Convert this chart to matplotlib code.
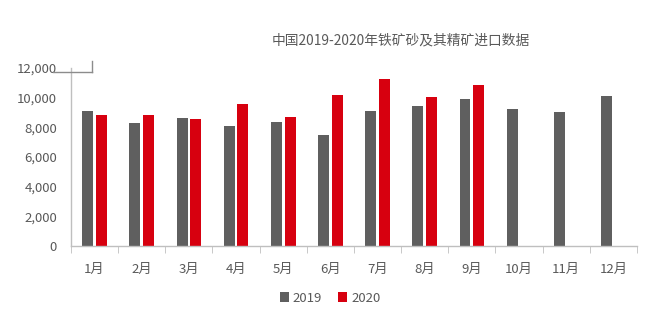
import numpy as np
import matplotlib.pyplot as plt
from matplotlib.lines import Line2D

plt.rcParams['font.family'] = ['Noto Sans CJK SC', 'DejaVu Sans']

months = ['1月', '2月', '3月', '4月', '5月', '6月', '7月', '8月', '9月', '10月', '11月', '12月']
vals_2019 = [9120, 8290, 8630, 8090, 8360, 7480, 9100, 9440, 9910, 9240, 9030, 10110]
vals_2020 = [8830, 8830, 8560, 9570, 8700, 10180, 11260, 10050, 10850]
title = '中国2019-2020年铁矿砂及其精矿进口数据'

c19 = '#5f5f5f'
c20 = '#d7000f'
axis_col = '#bfbfbf'
txt_col = '#595959'

fig = plt.figure(figsize=(6.49, 3.12), dpi=100)
ax = fig.add_axes([0.1094, 0.2115, 0.8721, 0.5705])

x = np.arange(len(months))
w = 0.23
ax.bar(x - 0.145, vals_2019, width=w, color=c19, label='2019')
ax.bar(np.arange(len(vals_2020)) + 0.145, vals_2020, width=w, color=c20, label='2020')

ax.set_xlim(-0.5, len(months) - 0.5)
ax.set_ylim(0, 12000)
ax.set_yticks(np.arange(0, 12001, 2000))
ax.set_yticklabels([f'{v:,}' for v in range(0, 12001, 2000)])
ax.set_xticks(x)
ax.set_xticklabels(months)
ax.set_xticks(np.arange(-0.5, len(months)), minor=True)
ax.tick_params(axis='x', which='major', length=0, pad=12, labelsize=9.5, colors=txt_col)
ax.tick_params(axis='x', which='minor', length=5, color=axis_col, direction='out')
ax.tick_params(axis='y', length=0, pad=10, labelsize=9.5, colors=txt_col)

for s in ['top', 'right']:
    ax.spines[s].set_visible(False)
for s in ['left', 'bottom']:
    ax.spines[s].set_color(axis_col)
    ax.spines[s].set_linewidth(1)

# small bracket glitch near top of y axis
fig.add_artist(Line2D([53/649, 92/649], [1-72/312, 1-72/312], color='#8c8c8c', lw=1))
fig.add_artist(Line2D([92/649, 92/649], [1-72/312, 1-61/312], color='#8c8c8c', lw=1))

fig.text(401/649, 1-40/312, title, ha='center', va='center', fontsize=9.9, color=txt_col)

ax.legend(loc='center', bbox_to_anchor=(330/649, 1-298/312), bbox_transform=fig.transFigure,
          ncol=2, frameon=False, fontsize=9.5, handlelength=0.7, handleheight=0.7,
          handletextpad=0.3, columnspacing=1.2, labelcolor=txt_col)

fig.savefig('out.png', dpi=100)
